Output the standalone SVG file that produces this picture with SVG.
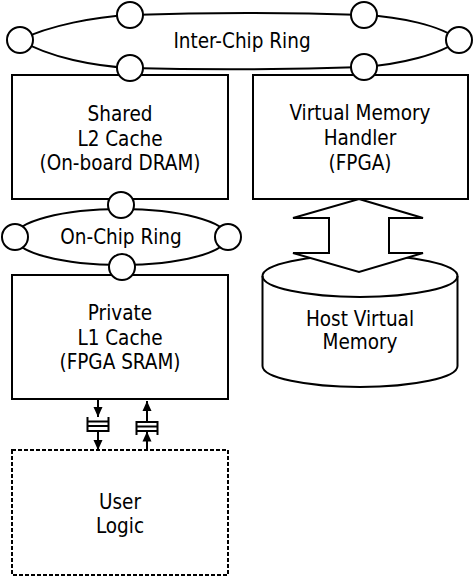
<svg xmlns="http://www.w3.org/2000/svg" width="474" height="577" viewBox="0 0 474 577">
<defs>
<style>
.ln{fill:none;stroke:#000;stroke-width:2}
.bx{fill:#fff;stroke:#000;stroke-width:2}
.nd{fill:#fff;stroke:#000;stroke-width:2}
.ds{fill:#fff;stroke:#000;stroke-width:2;stroke-dasharray:4 2}
.t{font-family:"DejaVu Sans Condensed","DejaVu Sans",Verdana,sans-serif;font-size:20.5px;fill:#000;text-anchor:middle}
</style>
<marker id="ah" viewBox="0 0 10 10" refX="10" refY="5" markerWidth="10" markerHeight="10" orient="auto" markerUnits="userSpaceOnUse">
<path d="M0,0.5 L10,5 L0,9.5 Z" fill="#000"/>
</marker>
</defs>
<rect width="474" height="577" fill="#fff"/>

<g id="shared-l2">
<rect class="bx" x="12" y="75" width="216" height="124"/>
<text class="t" x="120" y="120.5">Shared</text>
<text class="t" x="120" y="145.5">L2 Cache</text>
<text class="t" x="120" y="170">(On-board DRAM)</text>
</g>

<g id="vm-handler">
<rect class="bx" x="253" y="75" width="215" height="124"/>
<text class="t" x="360" y="120">Virtual Memory</text>
<text class="t" x="360" y="145">Handler</text>
<text class="t" x="360" y="170">(FPGA)</text>
</g>

<g id="private-l1">
<rect class="bx" x="12" y="275" width="216" height="124"/>
<text class="t" x="120" y="320">Private</text>
<text class="t" x="120" y="344.5">L1 Cache</text>
<text class="t" x="120" y="369">(FPGA SRAM)</text>
</g>

<g id="user-logic">
<rect class="ds" x="12" y="450" width="216" height="125"/>
<text class="t" x="120" y="509">User</text>
<text class="t" x="120" y="533">Logic</text>
</g>

<g id="host-vm">
<path class="bx" d="M262.5,276 L262.5,366 A97.5,21 0 0 0 457.5,366 L457.5,276 A97.5,21 0 0 0 262.5,276 Z"/>
<path class="ln" d="M262.5,276 A97.5,21 0 0 0 457.5,276"/>
<text class="t" x="360" y="326">Host Virtual</text>
<text class="t" x="360" y="349">Memory</text>
</g>

<g id="inter-chip-ring">
<path class="ln" d="M20,40 C50,25 95,17 130,15 Q247,11 364,15 C400,17 440,25 459,40 C440,55 400,64 364,67 Q247,71 130,68 C95,66 50,58 20,40 Z"/>
<text class="t" x="242" y="48">Inter-Chip Ring</text>
</g>

<g id="on-chip-ring">
<ellipse class="ln" cx="121" cy="237" rx="106" ry="28"/>
<text class="t" x="121" y="244">On-Chip Ring</text>
</g>

<g id="ring-stops">
<circle class="nd" cx="20" cy="40" r="13"/>
<circle class="nd" cx="130" cy="15" r="13"/>
<circle class="nd" cx="364" cy="15" r="13"/>
<circle class="nd" cx="459" cy="40" r="13"/>
<circle class="nd" cx="130" cy="68" r="13"/>
<circle class="nd" cx="364" cy="67" r="13"/>
<circle class="nd" cx="15" cy="237" r="13"/>
<circle class="nd" cx="228" cy="237" r="13"/>
<circle class="nd" cx="121" cy="205" r="13"/>
<circle class="nd" cx="122" cy="267" r="13"/>
</g>

<g id="connectors">
<polygon class="bx" points="359,199 423,218 389,218 389,253 423,253 359,272 293,253 329,253 329,218 293,218"/>
<line class="ln" x1="98" y1="400" x2="98" y2="417" marker-end="url(#ah)"/>
<line class="ln" x1="98" y1="431" x2="98" y2="450" marker-end="url(#ah)"/>
<path class="ln" d="M87.5,417 L87.5,431 L108.5,431 L108.5,417 M87.5,421.5 L108.5,421.5 M87.5,426 L108.5,426"/>
<line class="ln" x1="147" y1="450" x2="147" y2="431.5" marker-end="url(#ah)"/>
<line class="ln" x1="147" y1="422" x2="147" y2="401" marker-end="url(#ah)"/>
<path class="ln" d="M136.5,435 L136.5,422 L157.5,422 L157.5,435 M136.5,426.5 L157.5,426.5 M136.5,431 L157.5,431"/>
</g>
</svg>
